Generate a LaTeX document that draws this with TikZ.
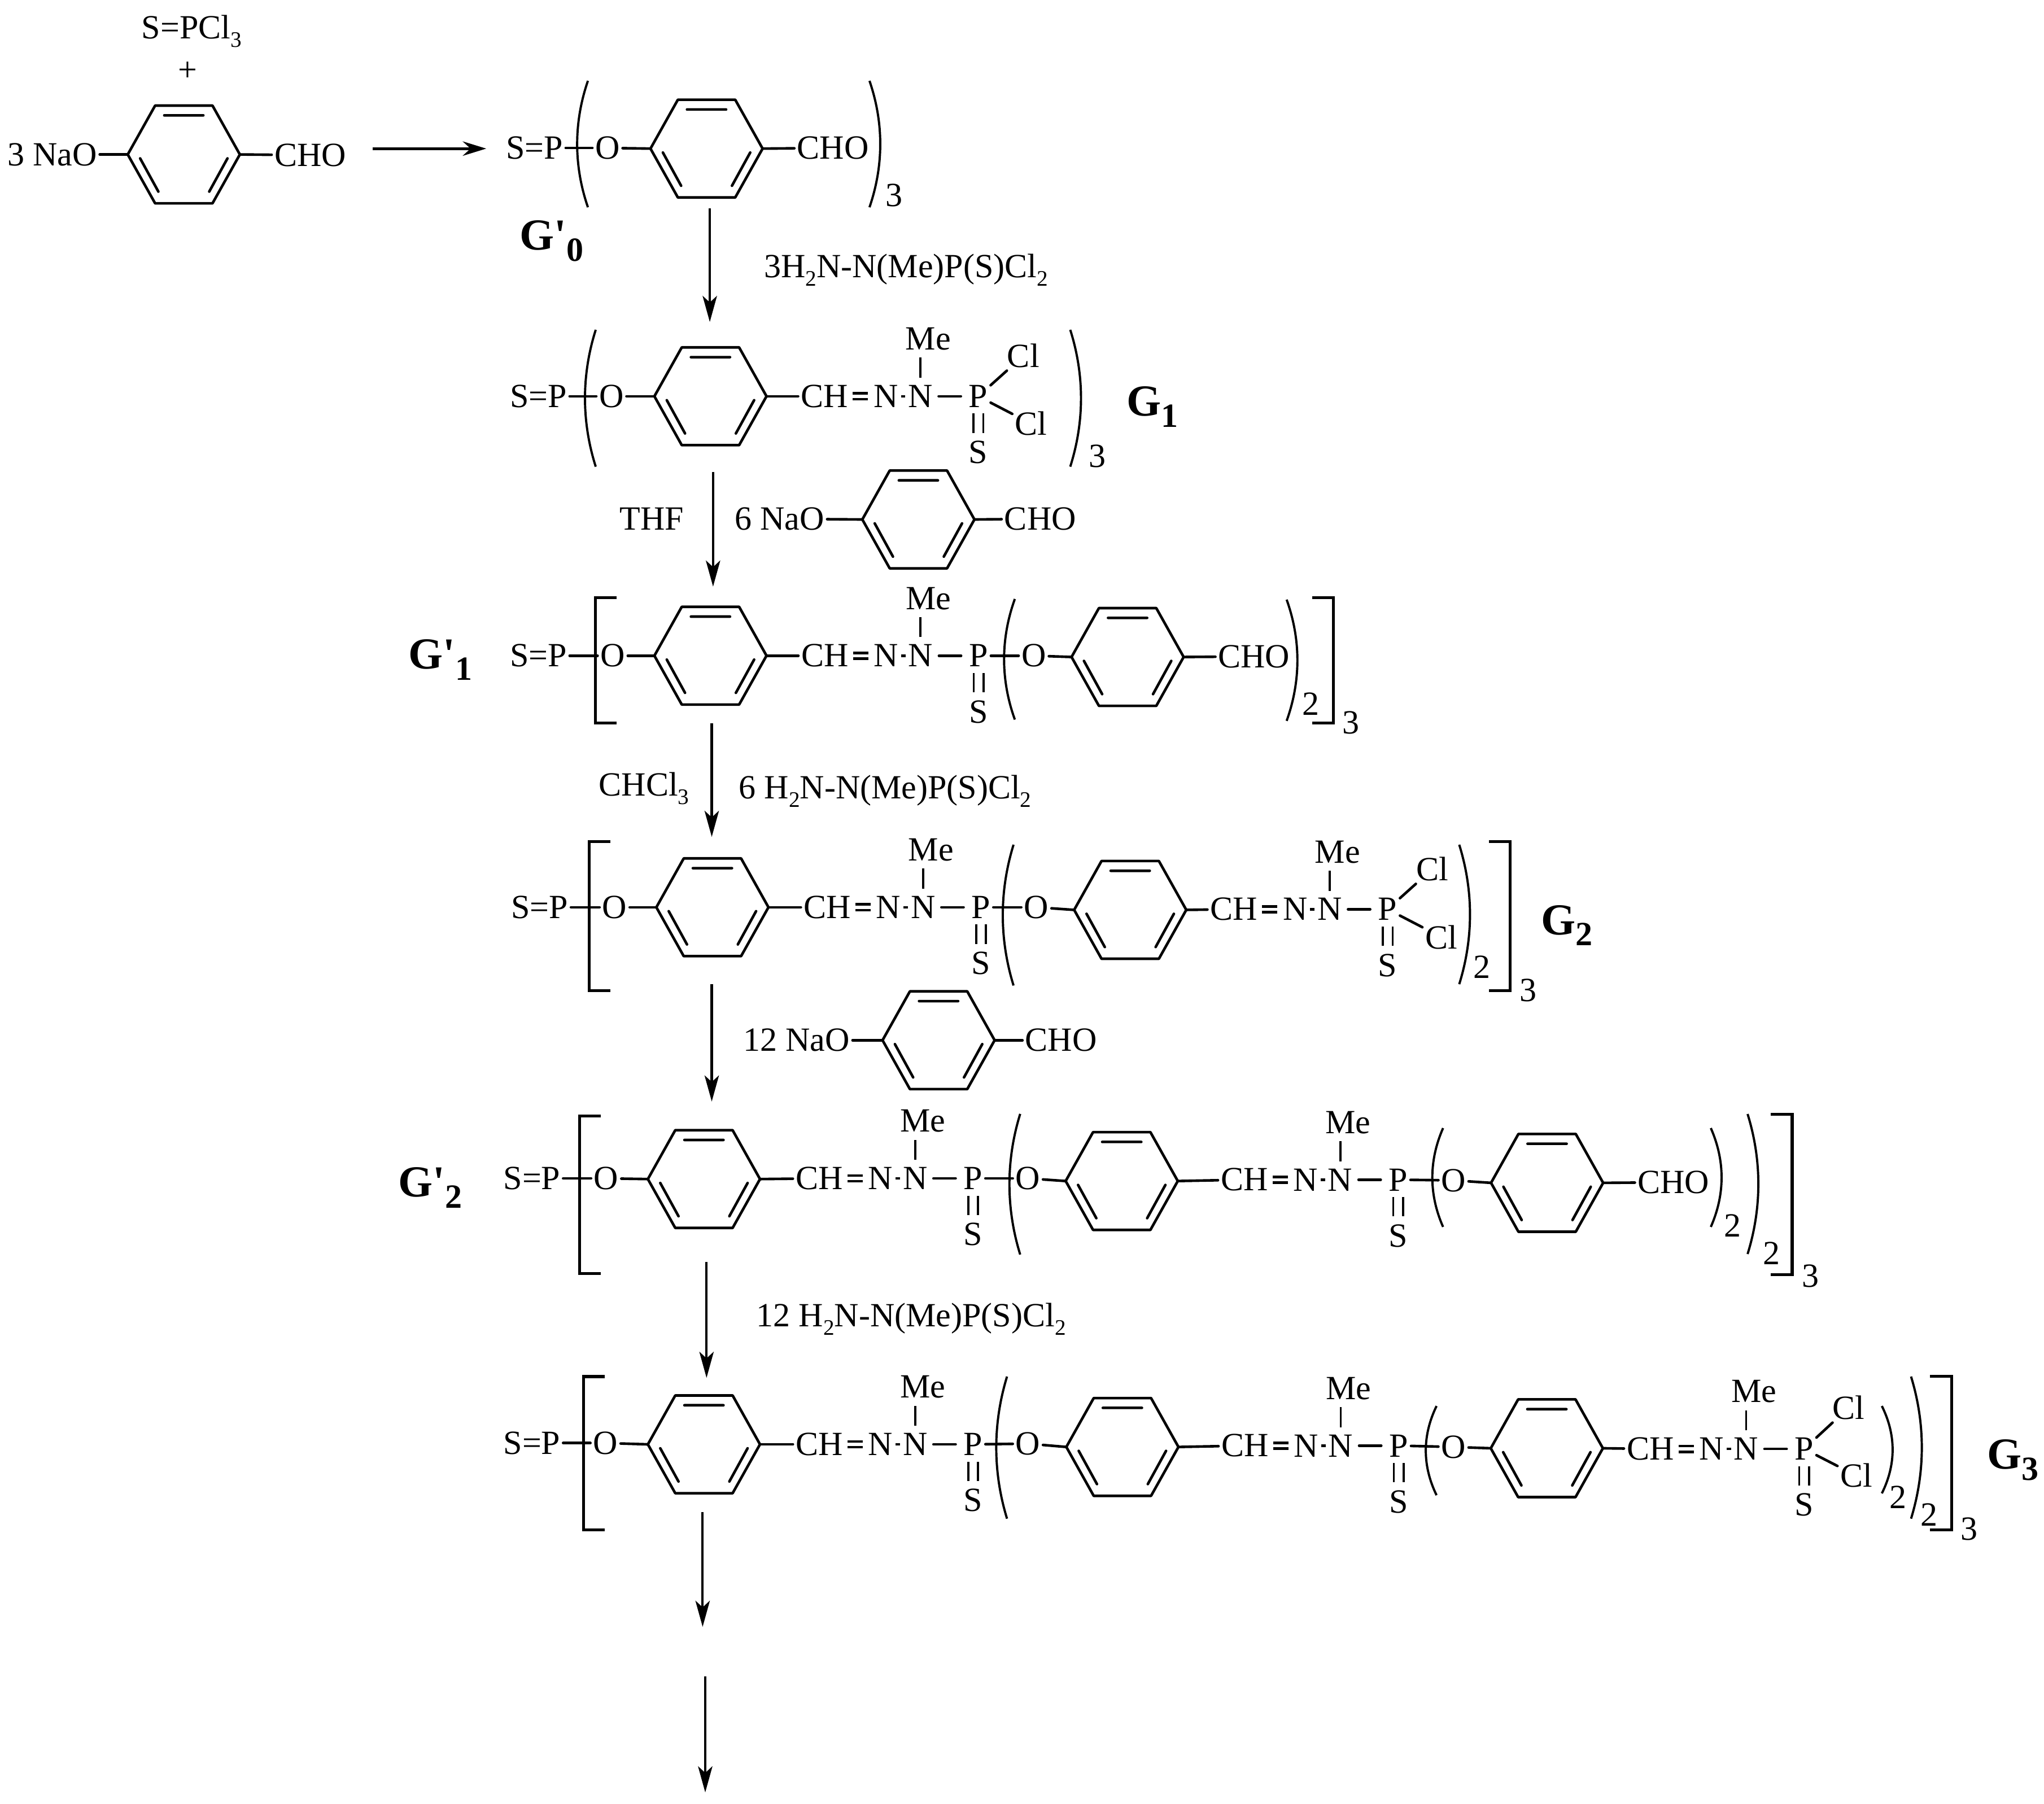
\documentclass[tikz,border=0pt]{standalone}
\usepackage{fontspec}
\setmainfont{Liberation Serif}
\usetikzlibrary{arrows.meta}

\newcommand{\atomfont}{\fontsize{26}{29}\selectfont}
\newcommand{\lo}[1]{\raisebox{-6.5pt}{\fontsize{17}{18}\selectfont #1}}
\newcommand{\glabel}[2]{\fontsize{34}{36}\selectfont\bfseries #1\raisebox{-0.25em}{\fontsize{26}{28}\selectfont #2}}
\newcommand{\gprime}{G\textquotesingle}

\tikzset{
	bond/.style={line width=2pt,line cap=round,line join=round},
	thinbond/.style={line width=1.7pt},
	dbond/.style={line width=2pt,double,double distance=2.4pt,shorten <=1.5pt,shorten >=2pt},
	sbond/.style={line width=1.5pt,double,double distance=6pt,shorten <=2.5pt,shorten >=4pt},
	brk/.style={line width=2.2pt},
	rxn/.style={line width=1.8pt,-{Stealth[length=20pt,width=11pt,inset=5pt]}},
	rxnbig/.style={line width=2.2pt,-{Stealth[length=18pt,width=11pt,inset=6pt]}}
}

% ring: name, centre x, centre y
\newcommand{\benz}[3]{
	\coordinate (#1w) at (#2-43,#3);
	\coordinate (#1e) at (#2+43,#3);
	\draw[bond] (#2-22,#3-37.5) -- (#2+22,#3-37.5) -- (#1e) -- (#2+22,#3+37.5) -- (#2-22,#3+37.5) -- (#1w) -- cycle;
	\draw[bond] (#2-15,#3-30) -- (#2+15,#3-30) (#2-33.5,#3+3) -- (#2-19.5,#3+28.5) (#2+33.5,#3+3) -- (#2+19.5,#3+28.5);
}
% CH=N-N(Me)-P=S: name, x of CH, y
\newcommand{\hydra}[3]{
	\node (#1ch) at (#2,#3) {CH};
	\node (#1na) at (#2+47,#3) {N};
	\node (#1nb) at (#2+73.5,#3) {N};
	\node (#1me) at (#2+79.5,#3-44) {Me};
	\node (#1p) at (#2+118,#3) {P};
	\node (#1s) at (#2+118,#3+43) {S};
	\draw[dbond] (#1ch) -- (#1na);
	\draw[bond,line cap=butt] (#1na) -- (#1nb);
	\draw[thinbond,shorten <=3.5pt,shorten >=3.5pt] (#1nb.north) -- (#1nb.north |- #1me.south);
	\draw[bond,shorten <=2.5pt,shorten >=4pt] (#1nb) -- (#1p);
	\draw[sbond] (#1p) -- (#1s);
}
% brackets: x of the free ends or of the spine, top y, bottom y
\newcommand{\parL}[3]{\draw[thinbond] (#1,#2) .. controls (#1-11,#2+0.33*#3-0.33*#2) and (#1-11,#3-0.33*#3+0.33*#2) .. (#1,#3);}
\newcommand{\parR}[3]{\draw[thinbond] (#1,#2) .. controls (#1+11,#2+0.33*#3-0.33*#2) and (#1+11,#3-0.33*#3+0.33*#2) .. (#1,#3);}
\newcommand{\brkL}[3]{\draw[brk] (#1+16.5,#2) -- (#1,#2) -- (#1,#3) -- (#1+16.5,#3);}
\newcommand{\brkR}[3]{\draw[brk] (#1-16.5,#2) -- (#1,#2) -- (#1,#3) -- (#1-16.5,#3);}
% arrow: name, x, from y, to y
\newcommand{\rxndown}[4]{
	\coordinate (#1a) at (#2,#3);
	\coordinate (#1b) at (#2,#4);
	\draw[rxn] (#1a) -- (#1b);
}

\begin{document}
\begin{tikzpicture}[x=1pt,y=-1pt,every node/.style={inner sep=2pt,font=\atomfont}]
	\useasboundingbox (0,0) rectangle (1568,1383.5);

	% starting materials
	\node (spcl) at (147,24) {S=PCl\lo{3}};
	\node (plus) at (144,55) {+};
	\node (nao) at (40,118.5) {3 NaO};
	\benz{ra}{141}{118.5}
	\node (raco) at (238,119) {CHO};
	\draw[bond] (nao) -- (raw);
	\draw[bond] (rae) -- (raco);
	\coordinate (topa) at (286,114);
	\coordinate (topb) at (373,114);
	\draw[rxnbig] (topa) -- (topb);

	% G'0
	\node (asp) at (410,113.5) {S=P};
	\node (ao) at (466,113.5) {O};
	\benz{rb}{542}{114}
	\node (aco) at (639,113.5) {CHO};
	\draw[bond] (asp) -- (ao);
	\draw[bond] (ao) -- (rbw);
	\draw[bond] (rbe) -- (aco);
	\parL{451}{62}{159}
	\parR{667}{62}{159}
	\node (asub) at (686,150) {3};
	\node (alab) at (423,185) {\glabel{\gprime}{0}};
	\rxndown{da}{544.5}{160}{247}
	\node (areag) at (695,207) {3H\lo{2}N-N(Me)P(S)Cl\lo{2}};

	% G1
	\node (bsp) at (413,304) {S=P};
	\node (bo) at (469,304) {O};
	\benz{rc}{545}{304}
	\hydra{bh}{632.5}{304}
	\node (bcla) at (785,273) {Cl};
	\node (bclb) at (791,325) {Cl};
	\draw[bond] (bsp) -- (bo);
	\draw[bond] (bo) -- (rcw);
	\draw[bond] (rce) -- (bhch);
	\draw[bond] (bhp) -- (bcla);
	\draw[bond] (bhp) -- (bclb);
	\parL{457}{253}{358}
	\parR{821}{253}{358}
	\node (bsub) at (842,350) {3};
	\node (blab) at (884,312) {\glabel{G}{1}};
	\rxndown{db}{547}{362}{450}
	\node (bthf) at (500,398) {THF};
	\node (bnao) at (598,398) {6 NaO};
	\benz{rd}{704.5}{398.5}
	\node (bco) at (798,398) {CHO};
	\draw[bond] (bnao) -- (rdw);
	\draw[bond] (rde) -- (bco);

	% G'1
	\node (csp) at (413,503) {S=P};
	\node (co) at (470,503) {O};
	\benz{re}{545}{503}
	\hydra{ch}{632.7}{503}
	\node (cob) at (793,503) {O};
	\benz{rf}{865}{504}
	\node (cco) at (962,503.6) {CHO};
	\draw[bond] (csp) -- (co);
	\draw[bond] (co) -- (rew);
	\draw[bond] (ree) -- (chch);
	\draw[bond] (chp) -- (cob);
	\draw[bond] (cob) -- (rfw);
	\draw[bond] (rfe) -- (cco);
	\brkL{456.7}{458.5}{554.5}
	\parL{778.5}{459.5}{552}
	\parR{987}{460}{553}
	\brkR{1023}{458.5}{554.5}
	\node (csuba) at (1005.6,540) {2};
	\node (csubb) at (1036.5,554.5) {3};
	\node (clab) at (338,506) {\glabel{\gprime}{1}};
	\rxndown{dc}{546}{555}{642}
	\node (csol) at (494,605) {CHCl\lo{3}};
	\node (creag) at (679,607) {6 H\lo{2}N-N(Me)P(S)Cl\lo{2}};

	% G2
	\node (dsp) at (414,696) {S=P};
	\node (do) at (471.5,696) {O};
	\benz{rg}{546.5}{696}
	\hydra{dh}{634.6}{696}
	\node (dob) at (795,696) {O};
	\benz{rh}{867}{698}
	\hydra{di}{946.5}{697.5}
	\node (dcla) at (1098.7,666.7) {Cl};
	\node (dclb) at (1105.6,718.8) {Cl};
	\draw[bond] (dsp) -- (do);
	\draw[bond] (do) -- (rgw);
	\draw[bond] (rge) -- (dhch);
	\draw[bond] (dhp) -- (dob);
	\draw[bond] (dob) -- (rhw);
	\draw[bond] (rhe) -- (dich);
	\draw[bond] (dip) -- (dcla);
	\draw[bond] (dip) -- (dclb);
	\brkL{451.8}{645.5}{760}
	\parL{777.5}{648}{756}
	\parR{1119.4}{648}{755}
	\brkR{1158.6}{645.5}{760}
	\node (dsuba) at (1137,742) {2};
	\node (dsubb) at (1172.5,759.6) {3};
	\node (dlab) at (1202,710) {\glabel{G}{2}};
	\rxndown{dd}{546}{755}{845}
	\node (dnao) at (611,798) {12 NaO};
	\benz{ri}{720}{798}
	\node (dco) at (814,798) {CHO};
	\draw[bond] (dnao) -- (riw);
	\draw[bond] (rie) -- (dco);

	% G'2
	\node (esp) at (408,904) {S=P};
	\node (eo) at (465,904) {O};
	\benz{rj}{540}{904.5}
	\hydra{eh}{628.5}{904}
	\node (eob) at (788.5,904) {O};
	\benz{rk}{860.5}{906}
	\hydra{ei}{954.6}{905}
	\node (eoc) at (1115,905.5) {O};
	\benz{rl}{1186.8}{907.4}
	\node (eco) at (1283.8,907) {CHO};
	\draw[bond] (esp) -- (eo);
	\draw[bond] (eo) -- (rjw);
	\draw[bond] (rje) -- (ehch);
	\draw[bond] (ehp) -- (eob);
	\draw[bond] (eob) -- (rkw);
	\draw[bond] (rke) -- (eich);
	\draw[bond] (eip) -- (eoc);
	\draw[bond] (eoc) -- (rlw);
	\draw[bond] (rle) -- (eco);
	\brkL{444.5}{856}{977}
	\parL{782.6}{854.5}{962.4}
	\parL{1107}{865.4}{941.2}
	\parR{1312.4}{865.4}{941.2}
	\parR{1340.6}{854.6}{962}
	\brkR{1374.8}{855}{978}
	\node (esuba) at (1329,940) {2};
	\node (esubb) at (1359,961.6) {2};
	\node (esubc) at (1388.9,979) {3};
	\node (elab) at (330,911) {\glabel{\gprime}{2}};
	\rxndown{de}{542}{968}{1057}
	\node (ereag) at (699,1012) {12 H\lo{2}N-N(Me)P(S)Cl\lo{2}};

	% G3
	\node (fsp) at (408,1107) {S=P};
	\node (fo) at (464.5,1107) {O};
	\benz{rm}{540}{1108}
	\hydra{fh}{628.5}{1108}
	\node (fob) at (788.5,1107.5) {O};
	\benz{rn}{861}{1110}
	\hydra{fi}{955}{1109}
	\node (foc) at (1115,1110) {O};
	\benz{ro}{1186.6}{1111}
	\hydra{fj}{1266}{1111.5}
	\node (fcla) at (1418,1080) {Cl};
	\node (fclb) at (1424,1132) {Cl};
	\draw[bond] (fsp) -- (fo);
	\draw[bond] (fo) -- (rmw);
	\draw[bond] (rme) -- (fhch);
	\draw[bond] (fhp) -- (fob);
	\draw[bond] (fob) -- (rnw);
	\draw[bond] (rne) -- (fich);
	\draw[bond] (fip) -- (foc);
	\draw[bond] (foc) -- (row);
	\draw[bond] (roe) -- (fjch);
	\draw[bond] (fjp) -- (fcla);
	\draw[bond] (fjp) -- (fclb);
	\brkL{447.5}{1056}{1173.6}
	\parL{772.5}{1056}{1165}
	\parL{1102}{1078.6}{1147}
	\parR{1443.6}{1078.6}{1145.6}
	\parR{1466}{1056}{1165}
	\brkR{1497}{1055.6}{1173.8}
	\node (fsuba) at (1456,1148.7) {2};
	\node (fsubb) at (1480,1162) {2};
	\node (fsubc) at (1510.6,1173) {3};
	\node (flab) at (1544,1120) {\glabel{G}{3}};

	% last steps
	\rxndown{df}{539}{1160}{1248}
	\rxndown{dg}{541}{1286}{1375}
\end{tikzpicture}
\end{document}
